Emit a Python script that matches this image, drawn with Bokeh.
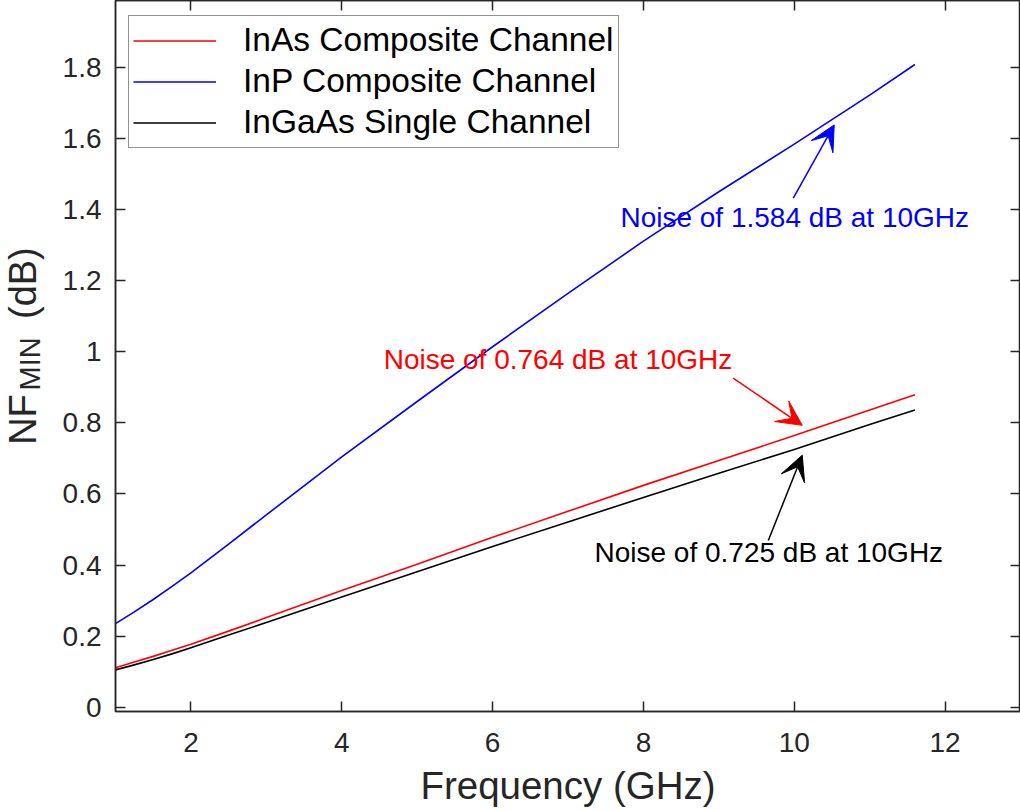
from math import pi
from bokeh.plotting import figure
from bokeh.layouts import row
from bokeh.core.properties import value
from bokeh.models import (Range1d, LinearAxis, FixedTicker, Label, Arrow, VeeHead,
                          Legend, LegendItem, PrintfTickFormatter, CustomLabelingPolicy)
from bokeh.embed import file_html
from bokeh.resources import INLINE

# ---------------- data ----------------
freq_ghz = [1.0, 1.25, 1.5, 1.75, 2.0, 2.5, 3.0, 4.0, 5.0, 6.0, 7.0, 8.0, 9.0, 10.0, 11.0, 11.6]
nf_inas = [0.111, 0.127, 0.143, 0.160, 0.177, 0.214, 0.252, 0.328, 0.402, 0.478, 0.551, 0.624,
           0.694, 0.764, 0.836, 0.879]
nf_inp = [0.235, 0.268, 0.303, 0.340, 0.378, 0.459, 0.541, 0.704, 0.860, 1.014, 1.164, 1.311,
          1.450, 1.584, 1.722, 1.808]
nf_ingaas = [0.105, 0.119, 0.134, 0.150, 0.167, 0.203, 0.238, 0.310, 0.381, 0.452, 0.521, 0.590,
             0.658, 0.725, 0.795, 0.836]

series_names = ["InAs Composite Channel", "InP Composite Channel", "InGaAs Single Channel"]
series_colors = ["#ff0000", "#0000ff", "#000000"]

x_ticks = [2, 4, 6, 8, 10, 12]
y_ticks = [0, 0.2, 0.4, 0.6, 0.8, 1, 1.2, 1.4, 1.6, 1.8]

# annotations (text at baseline-left, arrows tail -> head), data units
note_texts = ["Noise of 0.764 dB at 10GHz", "Noise of 1.584 dB at 10GHz", "Noise of 0.725 dB at 10GHz"]
note_x = [4.556, 7.695, 7.351]
note_y = [0.977, 1.377, 0.436]
arrow_x0 = [9.19, 9.987, 9.656]
arrow_y0 = [0.926, 1.432, 0.469]
arrow_x1 = [10.106, 10.53, 10.106]
arrow_y1 = [0.793, 1.638, 0.709]

# y-axis title pieces: NF with subscript MIN, then (dB); start positions along the y axis
ylab_text = ["NF", "MIN", "(dB)"]
ylab_start = [0.738, 0.891, 1.092]

FONT = "Liberation Sans"
AX = "#262626"

yr = Range1d(-0.0121, 1.988)
p = figure(width=970, height=810, output_backend="svg", toolbar_location=None,
           x_range=Range1d(1, 13), y_range=yr,
           min_border_left=65, min_border_right=0, min_border_top=0, min_border_bottom=99,
           x_axis_label="Frequency (GHz)", y_axis_label=None)
p.grid.visible = False
p.outline_line_color = AX
p.outline_line_width = 1.5
p.background_fill_color = "white"
p.border_fill_color = "white"

renderers = []
for ys, c in zip([nf_inas, nf_inp, nf_ingaas], series_colors):
    r = p.line(freq_ghz, ys, line_color=c, line_width=1.6, line_join="round")
    renderers.append(r)

def style_axis(ax, labels=True):
    ax.axis_line_color = AX
    ax.axis_line_width = 1.5
    ax.major_tick_line_color = AX
    ax.major_tick_line_width = 1.5
    ax.major_tick_in = 10
    ax.major_tick_out = 0
    ax.minor_tick_line_color = None
    if labels:
        ax.major_label_text_font = FONT
        ax.major_label_text_font_size = "28px"
        ax.major_label_text_color = AX
    else:
        ax.major_label_text_font_size = "0px"
        ax.major_label_policy = CustomLabelingPolicy(
            code="for (const i of indices) { indices.unset(i) } return indices")
        ax.major_label_standoff = 0
        ax.axis_label = None

xa = p.xaxis[0]
xa.ticker = FixedTicker(ticks=x_ticks)
style_axis(xa)
xa.major_label_standoff = 21
xa.axis_label_text_font = FONT
xa.axis_label_text_font_size = "38.5px"
xa.axis_label_text_font_style = "normal"
xa.axis_label_text_color = AX
xa.axis_label_standoff = 9

ya = p.yaxis[0]
ya.ticker = FixedTicker(ticks=y_ticks)
ya.formatter = PrintfTickFormatter(format="%g")
style_axis(ya)
ya.major_label_standoff = 14

top = LinearAxis(ticker=FixedTicker(ticks=x_ticks))
style_axis(top, labels=False)
p.add_layout(top, "above")
right = LinearAxis(ticker=FixedTicker(ticks=y_ticks))
style_axis(right, labels=False)
p.add_layout(right, "right")

# annotations
for t, tx, ty, x0, y0, x1, y1, c in zip(note_texts, note_x, note_y, arrow_x0, arrow_y0,
                                        arrow_x1, arrow_y1, series_colors):
    p.add_layout(Label(x=tx, y=ty, text=t, text_font=FONT, text_font_size="28px",
                       text_color=c, text_align="left", text_baseline="alphabetic"))
    p.add_layout(Arrow(x_start=x0, y_start=y0, x_end=x1, y_end=y1, line_color=c, line_width=1.5,
                       end=VeeHead(size=25, fill_color=c, line_color=c, line_width=1)))

legend = Legend(items=[LegendItem(label=n, renderers=[r]) for n, r in zip(series_names, renderers)],
                location=(13, 563.5), margin=0, padding=4, spacing=0,
                glyph_width=83, glyph_height=41, label_height=41, label_standoff=27,
                label_text_font=FONT, label_text_font_size="33.5px", label_text_color="#000000",
                border_line_color=AX, border_line_width=1.5, background_fill_color="white",
                background_fill_alpha=1.0)
p.add_layout(legend)

# narrow side panel holding the rotated y-axis title (shares the y range)
lab = figure(width=50, height=810, output_backend="svg", toolbar_location=None,
             x_range=Range1d(0, 50), y_range=yr,
             x_axis_location=None, y_axis_location=None,
             min_border_left=0, min_border_right=0, min_border_top=0, min_border_bottom=99)
lab.grid.visible = False
lab.outline_line_color = None
lab.border_fill_color = "white"
lab.background_fill_color = "white"
lab.text(x=[22, 22], y=[ylab_start[0], ylab_start[2]], text=[ylab_text[0], ylab_text[2]],
         angle=pi / 2, text_font=value(FONT), text_font_size=value("38px"), text_color=AX,
         text_align="left", text_baseline="alphabetic")
lab.text(x=[29], y=[ylab_start[1]], text=[ylab_text[1]], angle=pi / 2,
         text_font=value(FONT), text_font_size=value("29px"), text_color=AX,
         text_align="left", text_baseline="alphabetic")

layout = row(lab, p, spacing=0)
open("out.html", "w").write(file_html(layout, INLINE))
